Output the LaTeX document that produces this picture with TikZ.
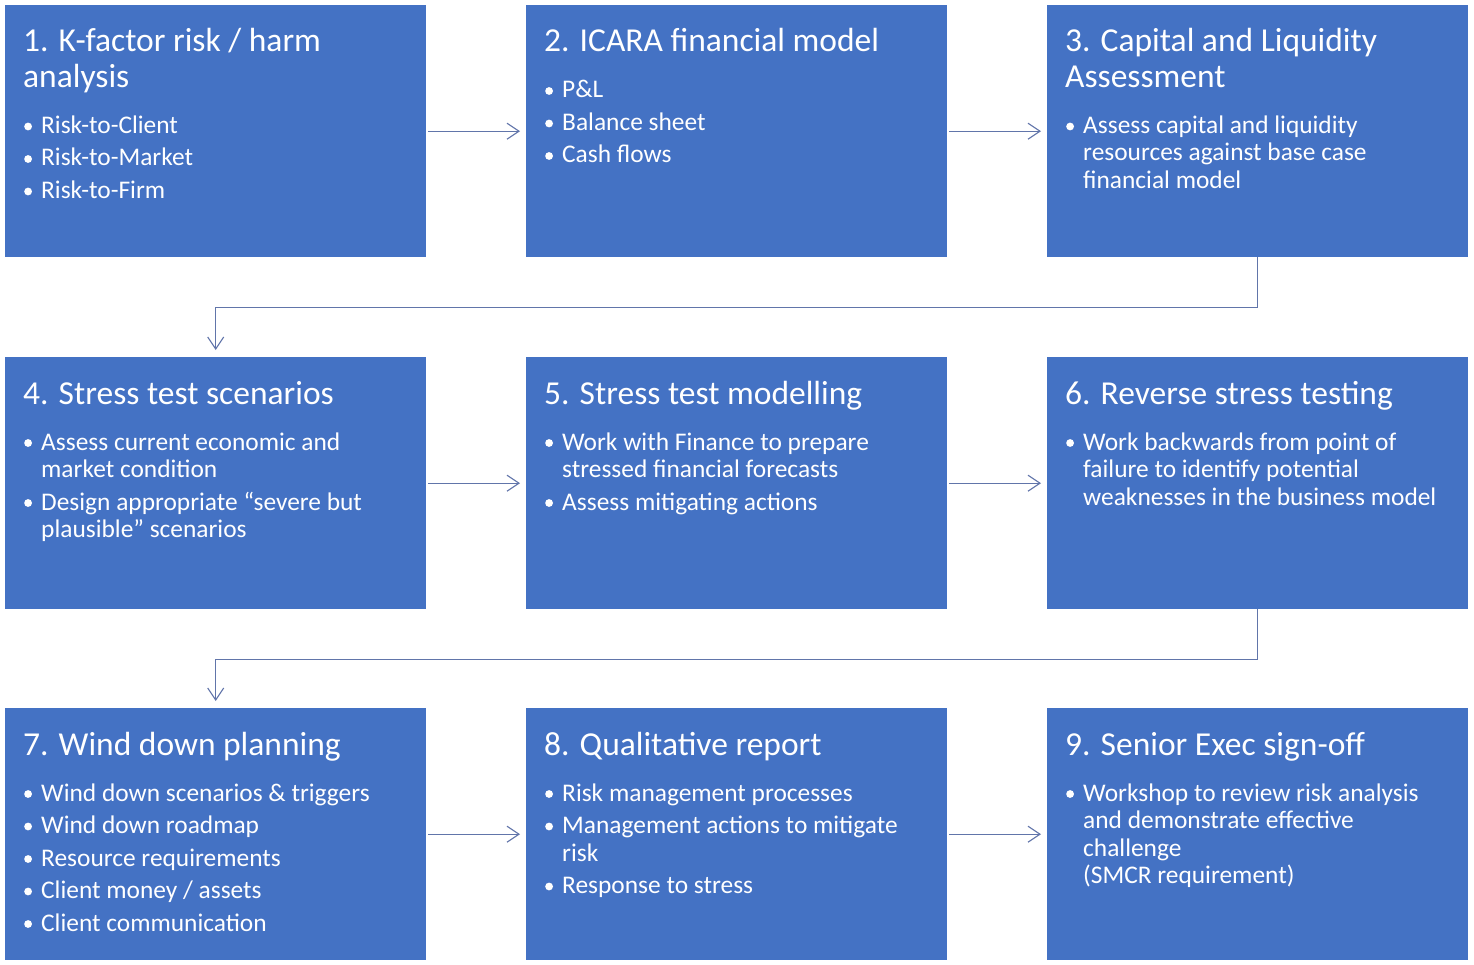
\documentclass[tikz,border=0pt]{standalone}
\usepackage{fontspec}
\setmainfont{Carlito}
\usetikzlibrary{arrows.meta}
\definecolor{boxblue}{HTML}{4472C4}
\definecolor{linkblue}{HTML}{6175AA}
\newcommand{\boxtitle}[1]{\fontsize{33.5}{35.5}\selectfont #1\par\fontsize{25.4}{27.5}\selectfont\vspace{13.5pt}}
\newcommand{\bdot}{\tikz[baseline=0pt]\fill[white] (4pt,7pt) circle (3.9pt);}
\newcommand{\bitem}[1]{\par\vspace{5pt}\hangindent=18pt\hangafter=1\noindent\makebox[18pt][l]{\hspace{1pt}\bdot}#1\par}
\newcommand{\boxtext}[1]{\parbox[t]{415pt}{\raggedright #1}}
\tikzset{
  blk/.style={fill=boxblue, draw=none, minimum width=421pt, minimum height=252pt, inner sep=0pt, anchor=north west},
  txt/.style={anchor=base west, inner sep=0pt, text=white},
  conn/.style={draw=linkblue, line width=1.1pt, -{Straight Barb[length=12pt,width=16pt,line width=1.1pt]}}
}
\begin{document}
\begin{tikzpicture}[x=1pt,y=-1pt]
\fill[white] (0,0) rectangle (1474,965);
\useasboundingbox (0,0) rectangle (1474,965);
% boxes
\node[blk] (b1) at (5,5) {};
\node[blk] (b2) at (526,5) {};
\node[blk] (b3) at (1047,5) {};
\node[blk] (b4) at (5,357) {};
\node[blk] (b5) at (526,357) {};
\node[blk] (b6) at (1047,357) {};
\node[blk] (b7) at (5,708) {};
\node[blk] (b8) at (526,708) {};
\node[blk] (b9) at (1047,708) {};
% texts
\node[txt] (t1) at ([shift={(18,47)}]b1.north west) {\boxtext{\boxtitle{1. K-factor risk / harm\\analysis}%
\bitem{Risk-to-Client}\bitem{Risk-to-Market}\bitem{Risk-to-Firm}}};
\node[txt] (t2) at ([shift={(18,47)}]b2.north west) {\boxtext{\boxtitle{2. ICARA financial model}%
\bitem{P\&L}\bitem{Balance sheet}\bitem{Cash flows}}};
\node[txt] (t3) at ([shift={(18,47)}]b3.north west) {\boxtext{\boxtitle{3. Capital and Liquidity\\Assessment}%
\bitem{Assess capital and liquidity\newline resources against base case\newline financial model}}};
\node[txt] (t4) at ([shift={(18,47)}]b4.north west) {\boxtext{\boxtitle{4. Stress test scenarios}%
\bitem{Assess current economic and\newline market condition}\bitem{Design appropriate “severe but\newline plausible” scenarios}}};
\node[txt] (t5) at ([shift={(18,47)}]b5.north west) {\boxtext{\boxtitle{5. Stress test modelling}%
\bitem{Work with Finance to prepare\newline stressed financial forecasts}\bitem{Assess mitigating actions}}};
\node[txt] (t6) at ([shift={(18,47)}]b6.north west) {\boxtext{\boxtitle{6. Reverse stress testing}%
\bitem{Work backwards from point of\newline failure to identify potential\newline weaknesses in the business model}}};
\node[txt] (t7) at ([shift={(18,47)}]b7.north west) {\boxtext{\boxtitle{7. Wind down planning}%
\bitem{Wind down scenarios \& triggers}\bitem{Wind down roadmap}\bitem{Resource requirements}\bitem{Client money / assets}\bitem{Client communication}}};
\node[txt] (t8) at ([shift={(18,47)}]b8.north west) {\boxtext{\boxtitle{8. Qualitative report}%
\bitem{Risk management processes}\bitem{Management actions to mitigate\newline risk}\bitem{Response to stress}}};
\node[txt] (t9) at ([shift={(18,47)}]b9.north west) {\boxtext{\boxtitle{9. Senior Exec sign-off}%
\bitem{Workshop to review risk analysis\newline and demonstrate effective\newline challenge\newline (SMCR requirement)}}};
% connectors
\draw[conn] ([xshift=2pt]b1.east) -- ([xshift=-6pt]b2.west);
\draw[conn] ([xshift=2pt]b2.east) -- ([xshift=-6pt]b3.west);
\draw[conn] (b3.south) -- ++(0,50) -| ([yshift=7pt]b4.north);
\draw[conn] ([xshift=2pt]b4.east) -- ([xshift=-6pt]b5.west);
\draw[conn] ([xshift=2pt]b5.east) -- ([xshift=-6pt]b6.west);
\draw[conn] (b6.south) -- ++(0,50) -| ([yshift=7pt]b7.north);
\draw[conn] ([xshift=2pt]b7.east) -- ([xshift=-6pt]b8.west);
\draw[conn] ([xshift=2pt]b8.east) -- ([xshift=-6pt]b9.west);
\end{tikzpicture}
\end{document}
